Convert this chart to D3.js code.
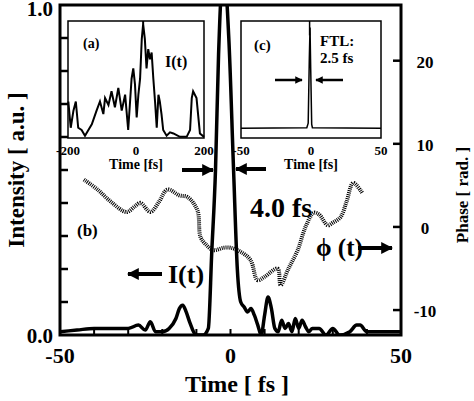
<!DOCTYPE html><html><head><meta charset="utf-8">
<script src="https://cdn.jsdelivr.net/npm/d3@7"></script>
<style>body{margin:0;background:#fff}text{font-family:"Liberation Serif",serif;font-weight:bold;fill:#000}</style>
</head><body><svg id="c" width="474" height="401"></svg>
<script>
const mainT=[-50,-45,-40,-35,-30,-27,-25,-23.5,-22,-20,-18,-16,-15,-14,-13,-12,-10,-8,-6.5,-5.5,-4.4,-3.5,-2.5,-1.5,-0.5,0.9,2,3,4,5,6,7,8,9,10,11,12,13,14,15,16,17,18,19,20,21,22,23,24,26,28,30,32,35,37,38,40,45,50];
const mainI=[0.01,0.015,0.02,0.02,0.02,0.03,0.015,0.04,0.01,0.01,0.02,0.05,0.08,0.09,0.07,0.04,0.0,0.0,0.02,0.25,0.5,0.85,1.05,1.05,0.9,0.5,0.2,0.1,0.085,0.07,0.08,0.06,0.03,0.0,0.06,0.115,0.08,0.02,0.01,0.045,0.02,0.035,0.01,0.05,0.02,0.045,0.025,0.01,0.02,0.02,0.0,0.02,0.0,0.01,0.03,0.03,0.01,0.01,0.01];
const phaseT=[-43,-39,-35,-30.5,-28,-26.4,-23.5,-21,-18.5,-15,-12.6,-9.7,-8.8,-7,-5,-2,0,3,5.9,7.9,10,13.8,14.7,17,19.7,22,24.4,26,28.5,30,32.3,34,36,38.6];
const phaseV=[5.7,4.5,3,1.8,2.5,2.9,1.8,3,4.5,3.8,3.6,2,-1.2,-2.2,-2.8,-2.5,-2.5,-3,-4,-6.4,-6,-5,-7,-5,-2.8,0,1.7,1.5,0.2,0.5,1.2,3,5.3,4.1];
const aT=[-199,-192,-184,-177,-170,-160,-150,-140,-130,-116,-106,-96,-91,-81,-72,-62,-52,-42,-32,-23,-13,-8,-3,2,7,12,17,21,26,31,36,41,46,51,56,61,66,70,75,80,90,100,110,129,149,159,164,168,178,188,200];
const aI=[0.32,0.09,0.24,0.32,0.09,0.07,0.02,0.07,0.12,0.24,0.32,0.21,0.35,0.29,0.41,0.27,0.44,0.24,0.38,0.07,0.52,0.61,0.47,0.18,0.38,0.52,0.87,1.0,0.87,0.61,0.78,0.69,0.75,0.52,0.32,0.09,0.38,0.32,0.21,0.07,0.02,0.05,0.04,0.01,0.01,0.07,0.35,0.41,0.35,0.04,0.01];
const cT=[-50,-3,-2,-1.2,-0.7,-0.2,0.5,1,50];
const cI=[0.085,0.09,0.13,0.7,0.97,0.6,0.12,0.09,0.085];
const xTicks=[-50,0,50], yTicks=[0.0,1.0], phTicks=[-10,0,10,20];

const svg=d3.select("#c");
const x=d3.scaleLinear([-50,50],[60,401]);
const y=d3.scaleLinear([0,1],[335,5]);
const yp=d3.scaleLinear([-13,26.7],[335,5]);
svg.append("defs").append("marker").attr("id","ah").attr("viewBox","0 0 10 10").attr("refX",9).attr("refY",5).attr("markerWidth",3).attr("markerHeight",3).attr("orient","auto").append("path").attr("d","M0,0L10,5L0,10z").attr("fill","#000");
svg.append("clipPath").attr("id","cl").append("rect").attr("x",60).attr("y",5).attr("width",341).attr("height",330);
const g=svg.append("g");
g.append("rect").attr("x",60).attr("y",5).attr("width",341).attr("height",330).attr("fill","none").attr("stroke","#000").attr("stroke-width",3);
d3.range(1,10).map(v=>v/10).forEach(v=>g.append("line").attr("x1",60).attr("x2",68).attr("y1",y(v)).attr("y2",y(v)).attr("stroke","#000").attr("stroke-width",2.5));
d3.range(-40,50,10).forEach(v=>g.append("line").attr("x1",x(v)).attr("x2",x(v)).attr("y1",335).attr("y2",329).attr("stroke","#000").attr("stroke-width",2));
phTicks.forEach(v=>g.append("line").attr("x1",401).attr("x2",393).attr("y1",yp(v)).attr("y2",yp(v)).attr("stroke","#000").attr("stroke-width",2.5));
xTicks.forEach(v=>g.append("text").attr("x",x(v)).attr("y",363).attr("text-anchor","middle").attr("font-size",22).text(v));
yTicks.forEach(v=>g.append("text").attr("x",53).attr("y",Math.max(y(v)+8,16)).attr("text-anchor","end").attr("font-size",21).text(v.toFixed(1)));
phTicks.forEach(v=>g.append("text").attr("x",425).attr("y",yp(v)+7).attr("text-anchor","middle").attr("font-size",17).text(v));
g.append("text").attr("x",237).attr("y",392).attr("text-anchor","middle").attr("font-size",24).text("Time [ fs ]");
g.append("text").attr("transform","translate(24,170) rotate(-90)").attr("text-anchor","middle").attr("font-size",23).text("Intensity [ a.u. ]");
g.append("text").attr("transform","translate(468,195) rotate(-90)").attr("text-anchor","middle").attr("font-size",17).text("Phase [ rad. ]");

g.append("path").attr("d",d3.line().x((d,i)=>x(phaseT[i])).y(d=>yp(d)).curve(d3.curveCatmullRom)(phaseV)).attr("fill","none").attr("stroke","#000").attr("stroke-width",4).attr("stroke-dasharray","1,1");
g.append("path").attr("clip-path","url(#cl)").attr("d",d3.line().x((d,i)=>x(mainT[i])).y(d=>y(d)).curve(d3.curveMonotoneX)(mainI)).attr("fill","none").attr("stroke","#000").attr("stroke-width",3.5);

const ax=d3.scaleLinear([-200,200],[68,204]), ay=d3.scaleLinear([0,1],[138,24]);
g.append("rect").attr("x",68).attr("y",21).attr("width",136).attr("height",117).attr("fill","#fff").attr("stroke","#000").attr("stroke-width",1.5);
g.append("path").attr("d",d3.line().x((d,i)=>ax(aT[i])).y(d=>ay(d))(aI)).attr("fill","none").attr("stroke","#000").attr("stroke-width",2);
g.append("line").attr("x1",ax(21)).attr("x2",ax(21)).attr("y1",ay(1)).attr("y2",21).attr("stroke","#000").attr("stroke-width",2);
[-200,0,200].forEach(v=>g.append("text").attr("x",ax(v)).attr("y",155).attr("text-anchor","middle").attr("font-size",13).text(v));
g.append("text").attr("x",136).attr("y",169).attr("text-anchor","middle").attr("font-size",14).text("Time [fs]");
g.append("text").attr("x",83).attr("y",48).attr("font-size",14).text("(a)");
g.append("text").attr("x",165).attr("y",67).attr("font-size",16).text("I(t)");
const cx=d3.scaleLinear([-50,50],[241,381]), cy=d3.scaleLinear([0,1],[138,24]);
g.append("rect").attr("x",241).attr("y",21).attr("width",140).attr("height",117).attr("fill","#fff").attr("stroke","#000").attr("stroke-width",1.5);
g.append("path").attr("d",d3.line().x((d,i)=>cx(cT[i])).y(d=>cy(d))(cI)).attr("fill","none").attr("stroke","#000").attr("stroke-width",1.5);
g.append("line").attr("x1",cx(-1)).attr("x2",cx(-1)).attr("y1",cy(0.9)).attr("y2",21).attr("stroke","#000").attr("stroke-width",1.5);
[-50,0,50].forEach(v=>g.append("text").attr("x",cx(v)).attr("y",155).attr("text-anchor","middle").attr("font-size",13).text(v));
g.append("text").attr("x",311).attr("y",169).attr("text-anchor","middle").attr("font-size",14).text("Time [fs]");
g.append("text").attr("x",254).attr("y",50).attr("font-size",15).text("(c)");
g.append("text").attr("x",320).attr("y",46).attr("font-size",15).text("FTL:");
g.append("text").attr("x",320).attr("y",63).attr("font-size",15).text("2.5 fs");
function arrow(x1,y1,x2,y2,w){g.append("line").attr("x1",x1).attr("y1",y1).attr("x2",x2).attr("y2",y2).attr("stroke","#000").attr("stroke-width",w).attr("marker-end","url(#ah)");}
arrow(275,80,302,80,2.5); arrow(343,80,316,80,2.5);
arrow(182,170,213,170,4); arrow(266,169,236,169,4);
arrow(162,274,128,274,4); arrow(358,248,392,248,4);
g.append("text").attr("x",250).attr("y",217).attr("font-size",28).text("4.0 fs");
g.append("text").attr("x",77).attr("y",236).attr("font-size",17).text("(b)");
g.append("text").attr("x",168).attr("y",283).attr("font-size",26).text("I(t)");
g.append("text").attr("x",316).attr("y",256).attr("font-size",25).text("\u03d5 (t)");
</script></body></html>
